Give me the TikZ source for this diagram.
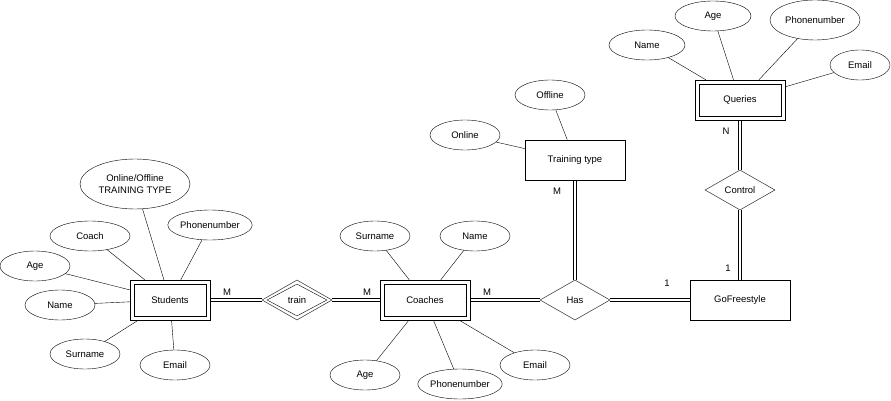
\documentclass[tikz,border=0pt]{standalone}
\usepackage{fontspec}
\setmainfont{Liberation Sans}
\usetikzlibrary{shapes.geometric}
\begin{document}
\begin{tikzpicture}[x=1pt,y=1pt,font=\fontsize{9.5}{11.5}\selectfont,
	attr/.style={draw,ellipse,minimum width=#1,minimum height=30pt,inner sep=0pt},
	attr/.default=70pt,
	entity/.style={draw,minimum width=80pt,minimum height=40pt},
	rel/.style={draw,diamond,aspect=1.75,minimum width=70pt,minimum height=40pt,inner sep=0pt}]
	\useasboundingbox (0,-401) rectangle (891,0);

	% Entities
	\node[entity] (students) at (170,-300) {Students};
	\node[entity,minimum width=90pt] (coaches) at (425,-300) {Coaches};
	\node[entity,minimum width=100pt] (gofree) at (740,-300) {GoFreestyle};
	\node[entity,minimum width=100pt] (ttype) at (575,-160) {Training type};
	\node[entity,minimum width=90pt] (queries) at (740,-100) {Queries};
	\foreach \e in {students,coaches,queries}
		\draw ([shift={(4pt,4pt)}]\e.south west) rectangle ([shift={(-4pt,-4pt)}]\e.north east);

	% Relationships
	\node[rel] (train) at (297,-300) {train};
	\node[rel,minimum width=60pt,minimum height=32pt] at (297,-300) {};
	\node[rel] (has) at (575,-300) {Has};
	\node[rel] (control) at (740,-190) {Control};

	% Attributes of students
	\node[attr=110pt,minimum height=50pt,align=center] (sonl) at (135,-184) {Online/Offline\\TRAINING TYPE};
	\node[attr=80pt] (scoach) at (90,-236) {Coach};
	\node[attr=80pt] (sphone) at (210,-225) {Phonenumber};
	\node[attr] (sage) at (35,-266) {Age};
	\node[attr] (sname) at (60,-305) {Name};
	\node[attr] (ssur) at (85,-354) {Surname};
	\node[attr] (semail) at (175,-365) {Email};
	\foreach \a in {sonl,scoach,sphone,sage,sname,ssur,semail}
		\draw (\a) -- (students);

	% Attributes of coaches
	\node[attr] (csur) at (375,-236) {Surname};
	\node[attr] (cname) at (475,-236) {Name};
	\node[attr] (cage) at (365,-375) {Age};
	\node[attr=80pt] (cphone) at (460,-384) {Phonenumber};
	\node[attr] (cemail) at (535,-365) {Email};
	\foreach \a in {csur,cname,cage,cphone,cemail}
		\draw (\a) -- (coaches);

	% Attributes of training type
	\node[attr] (toff) at (550,-95) {Offline};
	\node[attr] (tonl) at (465,-135) {Online};
	\draw (toff) -- (ttype);
	\draw (tonl) -- (ttype);

	% Attributes of queries
	\node[attr=76pt] (qname) at (647,-45) {Name};
	\node[attr=76pt] (qage) at (713,-16) {Age};
	\node[attr=90pt,minimum height=40pt] (qphone) at (815,-20) {Phonenumber};
	\node[attr=60pt] (qemail) at (860,-65) {Email};
	\foreach \a in {qname,qage,qphone,qemail}
		\draw (\a) -- (queries);

	% Connectors (double lines)
	\foreach \s in {-1.5pt,1.5pt}{
		\draw ([yshift=\s]students.east) -- ([yshift=\s]train.west);
		\draw ([yshift=\s]train.east) -- ([yshift=\s]coaches.west);
		\draw ([yshift=\s]coaches.east) -- ([yshift=\s]has.west);
		\draw ([yshift=\s]has.east) -- ([yshift=\s]gofree.west);
		\draw ([xshift=\s]has.north) -- ([xshift=\s]ttype.south);
		\draw ([xshift=\s]queries.south) -- ([xshift=\s]control.north);
		\draw ([xshift=\s]control.south) -- ([xshift=\s]gofree.north);
	}

	% Cardinalities
	\node at (227,-292) {M};
	\node at (367,-292) {M};
	\node at (487,-292) {M};
	\node at (557,-191) {M};
	\node at (667,-283) {1};
	\node at (728,-268) {1};
	\node at (726,-131) {N};
\end{tikzpicture}
\end{document}
